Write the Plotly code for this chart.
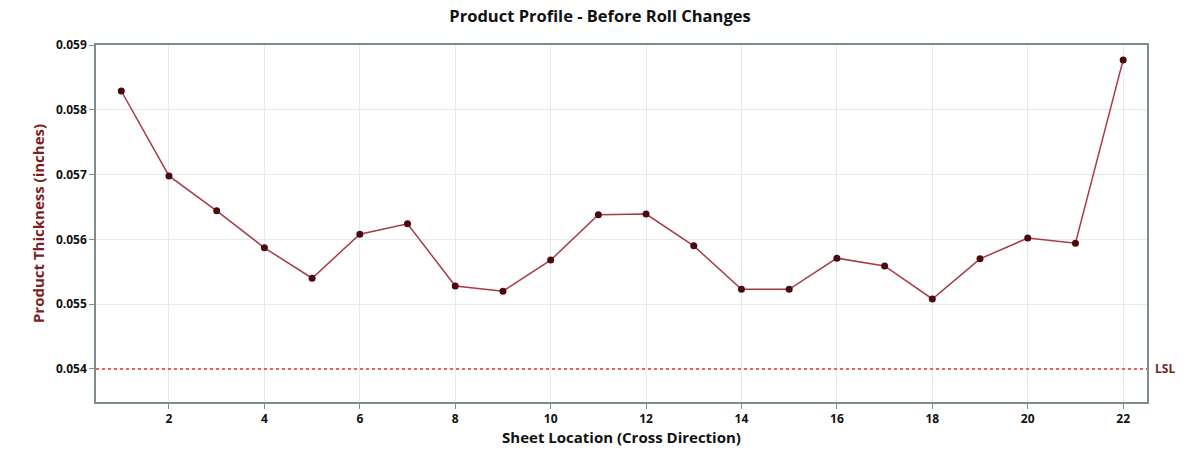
import plotly.graph_objects as go

locations = list(range(1, 23))
thickness = [0.05829, 0.05698, 0.05644, 0.05587, 0.05540, 0.05608, 0.05624, 0.05528,
             0.05520, 0.05568, 0.05638, 0.05639, 0.05590, 0.05523, 0.05523, 0.05571,
             0.05559, 0.05508, 0.05570, 0.05602, 0.05594, 0.05877]
lsl_value = 0.054
x_ticks = [2, 4, 6, 8, 10, 12, 14, 16, 18, 20, 22]
y_ticks = [0.054, 0.055, 0.056, 0.057, 0.058, 0.059]

font_family = "Open Sans, Noto Sans, sans-serif"

fig = go.Figure()
fig.add_trace(go.Scatter(
    x=locations, y=thickness, mode="lines+markers",
    line=dict(color="#A83A46", width=1.5),
    marker=dict(color="#4A0A0E", size=7),
    showlegend=False,
))
fig.add_hline(y=lsl_value, line=dict(color="#E0393B", width=1.5, dash="dot"))
fig.add_annotation(x=1, xref="paper", y=lsl_value, yref="y", text="LSL",
                   showarrow=False, xanchor="left", xshift=6,
                   font=dict(family=font_family, size=12, color="#7B1E22", weight="bold"))

fig.update_layout(
    width=1200, height=461,
    margin=dict(l=96, r=53, t=45, b=59),
    paper_bgcolor="white", plot_bgcolor="white",
    title=dict(text="Product Profile - Before Roll Changes", x=0.5, xanchor="center",
               y=0.965, yanchor="middle",
               font=dict(family=font_family, size=16.5, color="#111111", weight="bold")),
    xaxis=dict(range=[0.47, 22.5], tickvals=x_ticks, ticks="outside", ticklen=5,
               tickcolor="#7F8C8C", showline=True, linecolor="#7F8C8C", linewidth=1.5,
               mirror=True, showgrid=True, gridcolor="#E3ECEC", zeroline=False,
               tickfont=dict(family=font_family, size=12, color="#111111", weight="bold"),
               title=dict(text="Sheet Location (Cross Direction)", standoff=6,
                          font=dict(family=font_family, size=15, color="#111111", weight="bold"))),
    yaxis=dict(range=[0.05349, 0.059], tickvals=y_ticks, tickformat=".3f", ticks="outside",
               ticklen=5, tickcolor="#7F8C8C", showline=True, linecolor="#7F8C8C",
               linewidth=1.5, mirror=True, showgrid=True, gridcolor="#E3ECEC", zeroline=False,
               tickfont=dict(family=font_family, size=12, color="#111111", weight="bold"),
               title=dict(text="Product Thickness (inches)", standoff=8,
                          font=dict(family=font_family, size=15, color="#7B1E22", weight="bold"))),
)

fig.write_html("out.html")
